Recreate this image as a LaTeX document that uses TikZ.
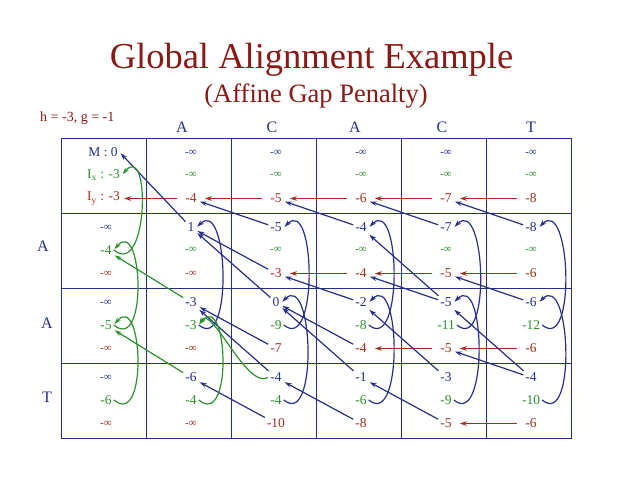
\documentclass[tikz,border=0pt]{standalone}
\usepackage{fontspec}
\setmainfont{Liberation Serif}
\usetikzlibrary{arrows.meta}
\definecolor{navy}{RGB}{38,48,140}
\definecolor{grn}{RGB}{45,145,45}
\definecolor{rd}{RGB}{165,45,25}
\definecolor{ttl}{RGB}{140,25,20}
\newcommand\ninf{{\fontsize{11}{13}\selectfont -∞}}
\newcommand\mkcell[5]{%
  \pgfmathsetmacro\cellx{106+85*#2}%
  \pgfmathsetmacro\celly{138+75*#1}%
  \node[vm] (m#1#2) at (\cellx,\celly+14.5) {#3};
  \node[vx] (x#1#2) at (\cellx,\celly+37) {#4};
  \node[vy] (y#1#2) at (\cellx,\celly+60.5) {#5};}
\begin{document}
\begin{tikzpicture}[x=1pt,y=-1pt,
  val/.style={inner sep=2pt, font=\fontsize{13.5}{15}\selectfont},
  vm/.style={val, text=navy},
  vx/.style={val, text=grn},
  vy/.style={val, text=rd},
  hdr/.style={text=navy, font=\fontsize{16}{18}\selectfont, anchor=base},
  gridline/.style={draw=navy, line width=0.9pt},
  tip/.style={-{Stealth[length=7pt,width=4.5pt]}},
  barr/.style={draw=navy, line width=1.2pt, tip, shorten >=1pt},
  garr/.style={draw=grn, line width=1.2pt, tip, shorten >=1pt},
  rarr/.style={draw=rd, line width=1.2pt, tip, shorten <=6pt, shorten >=6pt}]
\useasboundingbox (0,0) rectangle (638,478);
\fill[white] (0,0) rectangle (638,478);
% titles
\node[anchor=base, text=ttl, font=\fontsize{36.5}{40}\selectfont, inner sep=0pt] (title) at (311.5,69) {Global Alignment Example};
\node[anchor=base, text=ttl, font=\fontsize{26.5}{30}\selectfont, inner sep=0pt] (subtitle) at (316,102.5) {(Affine Gap Penalty)};
\node[anchor=base west, text=ttl, font=\fontsize{14}{16}\selectfont, inner sep=0pt] (params) at (40,122) {h = -3, g = -1};
% headers
\node[hdr] (h1) at (182,133) {A};
\node[hdr] (h2) at (272,133) {C};
\node[hdr] (h3) at (355,133) {A};
\node[hdr] (h4) at (442,133) {C};
\node[hdr] (h5) at (531,133) {T};
\node[hdr, anchor=center] (r1) at (43,246) {A};
\node[hdr, anchor=center] (r2) at (47,323) {A};
\node[hdr, anchor=center] (r3) at (47,397) {T};
% grid
\draw[gridline] (61,138) rectangle (571,438);
\foreach \gx in {146,231,316,401,486} \draw[gridline] (\gx,138) -- (\gx,438);
\foreach \gy in {213,288,363} \draw[gridline] (61,\gy) -- (571,\gy);
% row 0
\node[vm] (m00) at (103,152.5) {M : 0};
\node[vx] (x00) at (103.5,175) {I\textsubscript{x} : -3};
\node[vy] (y00) at (103.5,198.5) {I\textsubscript{y} : -3};
\node[vm] (m01) at (191,152.5) {\ninf}; \node[vx] (x01) at (191,175) {\ninf}; \node[vy] (y01) at (191,198.5) {-4};
\node[vm] (m02) at (276,152.5) {\ninf}; \node[vx] (x02) at (276,175) {\ninf}; \node[vy] (y02) at (276,198.5) {-5};
\node[vm] (m03) at (361,152.5) {\ninf}; \node[vx] (x03) at (361,175) {\ninf}; \node[vy] (y03) at (361,198.5) {-6};
\node[vm] (m04) at (446,152.5) {\ninf}; \node[vx] (x04) at (446,175) {\ninf}; \node[vy] (y04) at (446,198.5) {-7};
\node[vm] (m05) at (531,152.5) {\ninf}; \node[vx] (x05) at (531,175) {\ninf}; \node[vy] (y05) at (531,198.5) {-8};
% rows 1-3
\mkcell{1}{0}{\ninf}{-4}{\ninf}
\mkcell{1}{1}{1}{\ninf}{\ninf}
\mkcell{1}{2}{-5}{\ninf}{-3}
\mkcell{1}{3}{-4}{\ninf}{-4}
\mkcell{1}{4}{-7}{\ninf}{-5}
\mkcell{1}{5}{-8}{\ninf}{-6}
\mkcell{2}{0}{\ninf}{-5}{\ninf}
\mkcell{2}{1}{-3}{-3}{\ninf}
\mkcell{2}{2}{0}{-9}{-7}
\mkcell{2}{3}{-2}{-8}{-4}
\mkcell{2}{4}{-5}{-11}{-5}
\mkcell{2}{5}{-6}{-12}{-6}
\mkcell{3}{0}{\ninf}{-6}{\ninf}
\mkcell{3}{1}{-6}{-4}{\ninf}
\mkcell{3}{2}{-4}{-4}{-10}
\mkcell{3}{3}{-1}{-6}{-8}
\mkcell{3}{4}{-3}{-9}{-5}
\mkcell{3}{5}{-4}{-10}{-6}
% red (Iy) arrows
\draw[rarr, shorten >=2pt] (y01.west) -- (y00.east);
\draw[rarr] (y02.west) -- (y01.east);
\draw[rarr] (y03.west) -- (y02.east);
\draw[rarr] (y04.west) -- (y03.east);
\draw[rarr] (y05.west) -- (y04.east);
\draw[rarr] (y13.west) -- (y12.east);
\draw[rarr] (y14.west) -- (y13.east);
\draw[rarr] (y15.west) -- (y14.east);
\draw[rarr] (y24.west) -- (y23.east);
\draw[rarr] (y25.west) -- (y24.east);
\draw[rarr] (y35.west) -- (y34.east);
% blue straight arrows
\draw[barr] (m11) -- (m00.east);
\draw[barr] (m12) -- (y01);
\draw[barr] (m13) -- (y02);
\draw[barr] (m14) -- (y03);
\draw[barr] (m15) -- (y04);
\draw[barr] (y12) -- (m11);
\draw[barr] (m22) -- (m11);
\draw[barr] (m23) -- (y12);
\draw[barr] (m24) -- (m13);
\draw[barr] (m24) -- (y13);
\draw[barr] (m25) -- (y14);
\draw[barr] (y22) -- (m21);
\draw[barr] (y23) -- (m22);
\draw[barr] (m32) -- (m21);
\draw[barr] (m33) -- (m22);
\draw[barr] (m34) -- (m23);
\draw[barr] (m35) -- (m24);
\draw[barr] (m35) -- (y24);
\draw[barr] (y32) -- (m31);
\draw[barr] (y33) -- (m32);
\draw[barr] (y34) -- (m33);
% blue curves (Ix from M)
\foreach \c in {1,...,5}
  \draw[barr] (x2\c.east) .. controls +(40:45) and +(-45:45) .. (m1\c.east);
\foreach \c in {2,...,5}
  \draw[barr] (x3\c.east) .. controls +(40:45) and +(-45:45) .. (m2\c.east);
% green arrows
\draw[garr] (x10.east) .. controls +(40:45) and +(-50:45) .. (x00.east);
\draw[garr] (x20.east) .. controls +(40:45) and +(-50:45) .. (x10.east);
\draw[garr] (x30.east) .. controls +(40:45) and +(-50:45) .. (x20.east);
\draw[garr] (x31.east) .. controls +(40:45) and +(-50:45) .. (x21.east);
\draw[garr] (m21) -- (x10);
\draw[garr] (m31) -- (x20);
\draw[garr] (m32.west) .. controls +(150:25) and +(-60:25) .. (x21.east);
\end{tikzpicture}
\end{document}
